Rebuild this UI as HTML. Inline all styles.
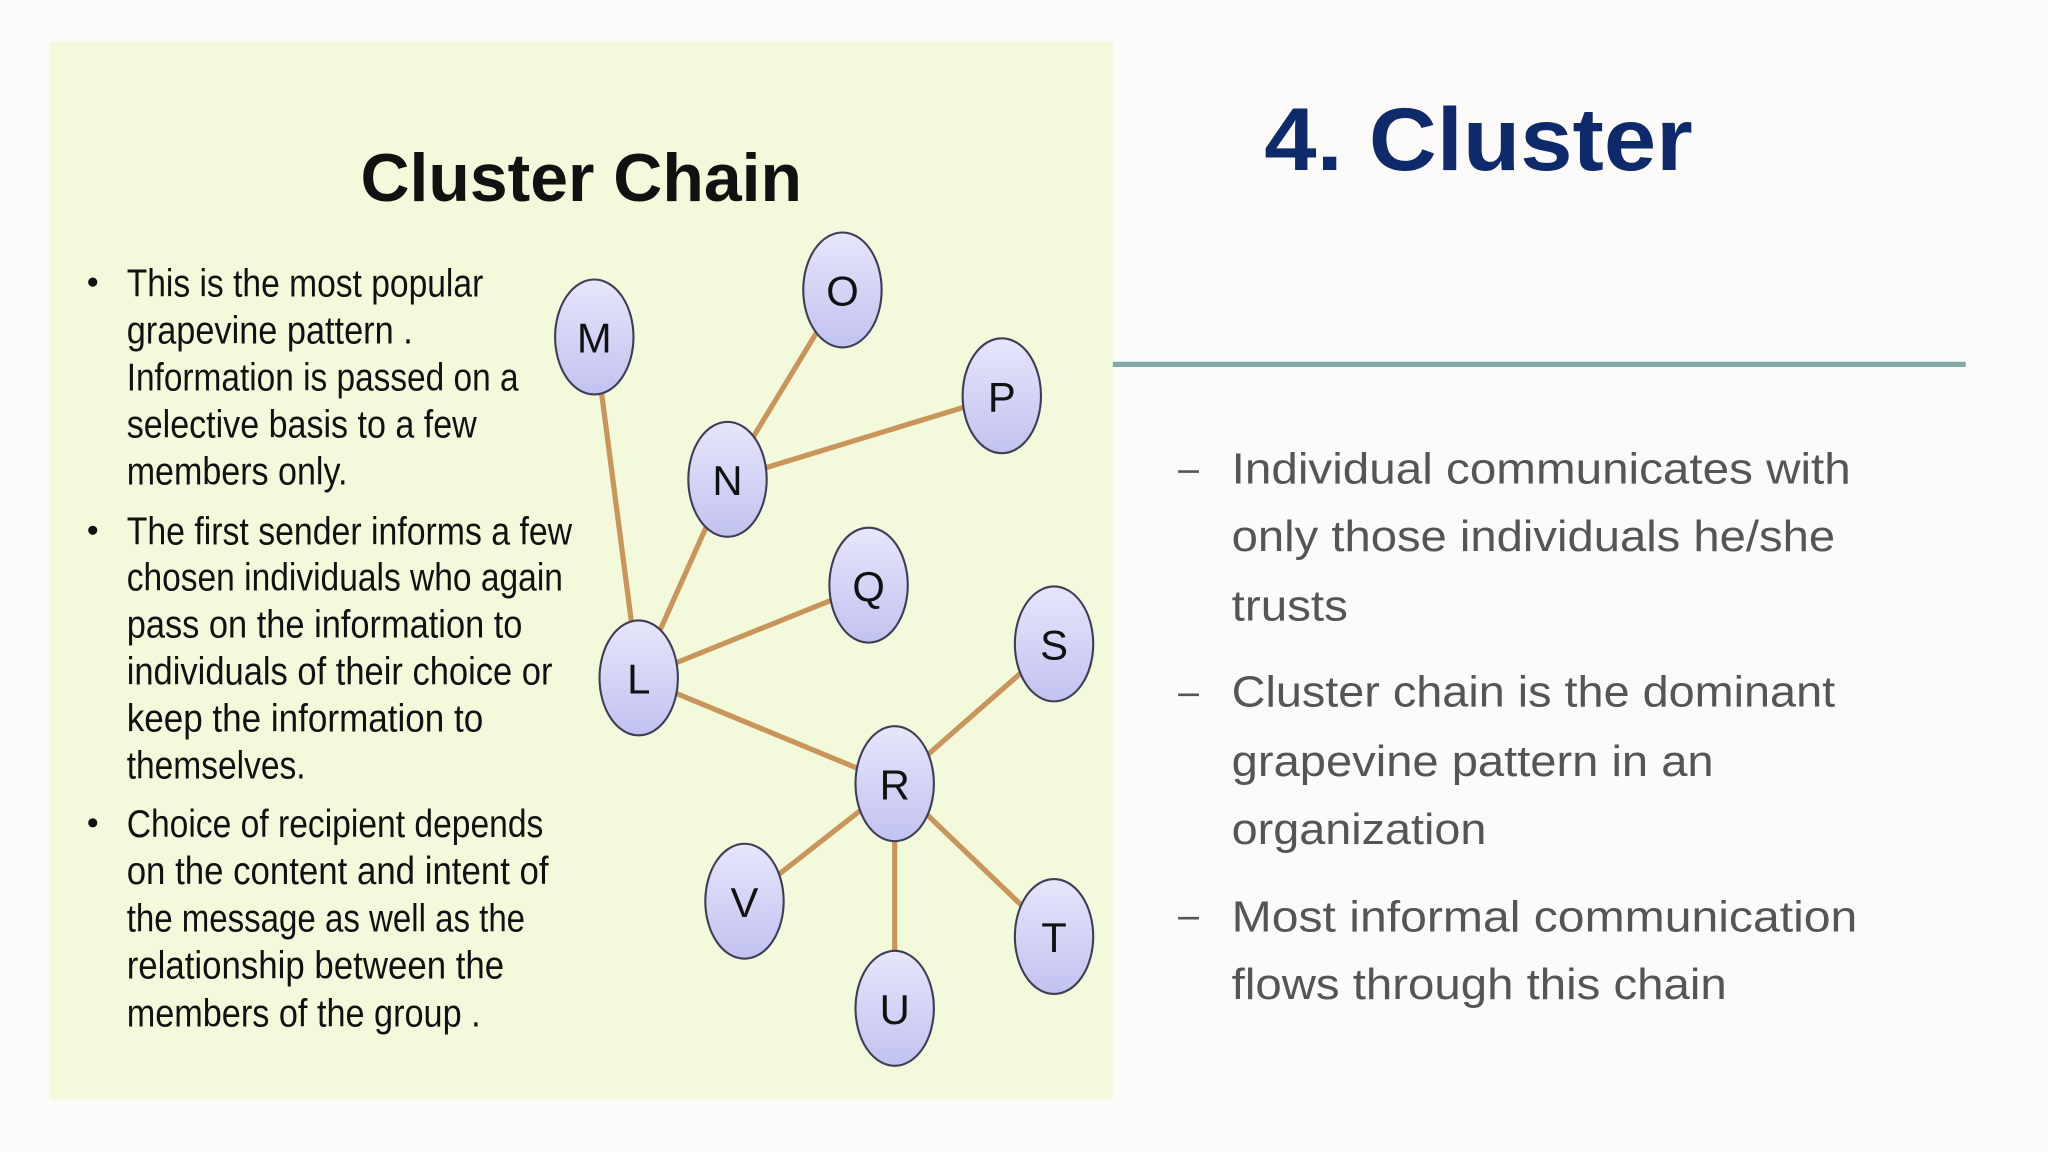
<!DOCTYPE html>
<html><head><meta charset="utf-8"><style>
html,body{margin:0;padding:0;background:#fdfbf9;}
svg{display:block}
</style></head><body>
<svg width="2048" height="1152" viewBox="0 0 1568 882" xmlns="http://www.w3.org/2000/svg">
<defs>
<linearGradient id="g" x1="0" y1="0" x2="0" y2="1">
<stop offset="0" stop-color="#e6e6fc"/><stop offset="1" stop-color="#c2c2f0"/>
</linearGradient>
</defs>
<rect width="1568" height="882" fill="#fdfbf9"/>
<rect x="38" y="32" width="814" height="810" fill="#f3fadc"/>
<text x="276" y="154" textLength="338" lengthAdjust="spacingAndGlyphs" font-family="Liberation Sans, sans-serif" font-weight="bold" font-size="52" fill="#111">Cluster Chain</text>
<g font-family="Liberation Sans, sans-serif" font-size="30" fill="#111">
<g><circle cx="71" cy="216" r="3.5"/><circle cx="71" cy="406" r="3.5"/><circle cx="71" cy="630" r="3.5"/></g>
<text x="97" y="227" textLength="273" lengthAdjust="spacingAndGlyphs">This is the most popular</text>
<text x="97" y="263" textLength="219" lengthAdjust="spacingAndGlyphs">grapevine pattern .</text>
<text x="97" y="299" textLength="300" lengthAdjust="spacingAndGlyphs">Information is passed on a</text>
<text x="97" y="335" textLength="268" lengthAdjust="spacingAndGlyphs">selective basis  to a few</text>
<text x="97" y="371" textLength="169" lengthAdjust="spacingAndGlyphs">members only.</text>
<text x="97" y="417" textLength="341" lengthAdjust="spacingAndGlyphs">The first sender informs a few</text>
<text x="97" y="452" textLength="334" lengthAdjust="spacingAndGlyphs">chosen individuals who again</text>
<text x="97" y="488" textLength="303" lengthAdjust="spacingAndGlyphs">pass on the information to</text>
<text x="97" y="524" textLength="326" lengthAdjust="spacingAndGlyphs">individuals of their choice or</text>
<text x="97" y="560" textLength="273" lengthAdjust="spacingAndGlyphs">keep the information to</text>
<text x="97" y="596" textLength="137" lengthAdjust="spacingAndGlyphs">themselves.</text>
<text x="97" y="641" textLength="319" lengthAdjust="spacingAndGlyphs">Choice of recipient depends</text>
<text x="97" y="677" textLength="323" lengthAdjust="spacingAndGlyphs">on the content and intent of</text>
<text x="97" y="713" textLength="305" lengthAdjust="spacingAndGlyphs">the message as well as the</text>
<text x="97" y="749" textLength="289" lengthAdjust="spacingAndGlyphs">relationship between the</text>
<text x="97" y="786" textLength="271" lengthAdjust="spacingAndGlyphs">members of the group .</text>
</g>
<g stroke="#c9955a" stroke-width="4" stroke-linecap="round">
<line x1="455" y1="258" x2="489" y2="519"/>
<line x1="557" y1="367" x2="489" y2="519"/>
<line x1="557" y1="367" x2="645" y2="222"/>
<line x1="557" y1="367" x2="767" y2="303"/>
<line x1="489" y1="519" x2="665" y2="448"/>
<line x1="489" y1="519" x2="685" y2="600"/>
<line x1="685" y1="600" x2="807" y2="493"/>
<line x1="685" y1="600" x2="570" y2="690"/>
<line x1="685" y1="600" x2="685" y2="772"/>
<line x1="685" y1="600" x2="807" y2="717"/>
</g>
<g fill="url(#g)" stroke="#3d3d55" stroke-width="1.6">
<ellipse cx="455" cy="258" rx="30" ry="44"/>
<ellipse cx="645" cy="222" rx="30" ry="44"/>
<ellipse cx="767" cy="303" rx="30" ry="44"/>
<ellipse cx="557" cy="367" rx="30" ry="44"/>
<ellipse cx="665" cy="448" rx="30" ry="44"/>
<ellipse cx="807" cy="493" rx="30" ry="44"/>
<ellipse cx="489" cy="519" rx="30" ry="44"/>
<ellipse cx="685" cy="600" rx="30" ry="44"/>
<ellipse cx="570" cy="690" rx="30" ry="44"/>
<ellipse cx="807" cy="717" rx="30" ry="44"/>
<ellipse cx="685" cy="772" rx="30" ry="44"/>
</g>
<g font-family="Liberation Sans, sans-serif" font-size="32" fill="#111" text-anchor="middle">
<text x="455" y="270">M</text><text x="645" y="234">O</text><text x="767" y="315">P</text>
<text x="557" y="379">N</text><text x="665" y="460">Q</text><text x="807" y="505">S</text>
<text x="489" y="531">L</text><text x="685" y="612">R</text><text x="570" y="702">V</text>
<text x="807" y="729">T</text><text x="685" y="784">U</text>
</g>
<text x="968" y="130" textLength="328" lengthAdjust="spacingAndGlyphs" font-family="Liberation Sans, sans-serif" font-weight="bold" font-size="68" fill="#0e2a6a">4. Cluster</text>
<line x1="852" y1="279" x2="1505" y2="279" stroke="#82aaa8" stroke-width="4"/>
<g font-family="Liberation Sans, sans-serif" font-size="33" fill="#555">
<g stroke="#555" stroke-width="2"><line x1="902" y1="361" x2="918" y2="361"/><line x1="902" y1="532" x2="918" y2="532"/><line x1="902" y1="703" x2="918" y2="703"/></g>
<text x="943" y="370" textLength="474" lengthAdjust="spacingAndGlyphs">Individual communicates with</text>
<text x="943" y="422" textLength="462" lengthAdjust="spacingAndGlyphs">only those individuals he/she</text>
<text x="943" y="475" textLength="89" lengthAdjust="spacingAndGlyphs">trusts</text>
<text x="943" y="541" textLength="462" lengthAdjust="spacingAndGlyphs">Cluster chain is the dominant</text>
<text x="943" y="594" textLength="369" lengthAdjust="spacingAndGlyphs">grapevine pattern in an</text>
<text x="943" y="646" textLength="195" lengthAdjust="spacingAndGlyphs">organization</text>
<text x="943" y="713" textLength="479" lengthAdjust="spacingAndGlyphs">Most informal communication</text>
<text x="943" y="765" textLength="379" lengthAdjust="spacingAndGlyphs">flows through this chain</text>
</g>
</svg>
</body></html>
